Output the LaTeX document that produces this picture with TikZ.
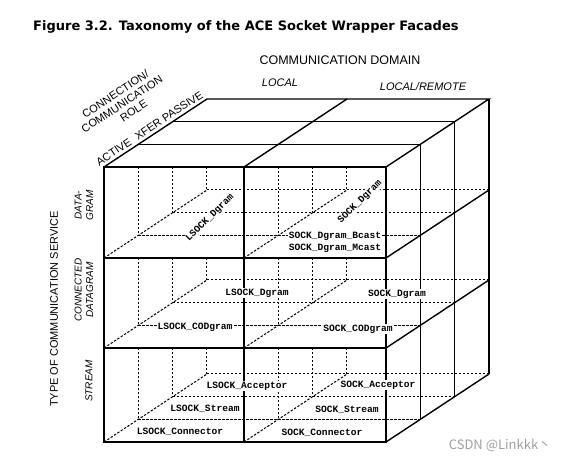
\documentclass[tikz,border=0pt]{standalone}
\usepackage{fontspec}
\setmainfont{Liberation Sans}
\newfontfamily\codefont{Liberation Mono}
\newfontfamily\titlefont{DejaVu Sans}
\newfontfamily\cjk{Noto Sans CJK SC}
\usetikzlibrary{calc}

\begin{document}
\begin{tikzpicture}[
  x=1pt, y=-1pt,
  edge/.style={line width=1.4pt, line join=miter},
  hidden/.style={line width=1pt, dash pattern=on 2.4pt off 1.6pt},
  cls/.style={font=\codefont\bfseries\fontsize{9.6}{10}\selectfont,
              fill=white, inner sep=1pt},
  axislabel/.style={font=\fontsize{11}{13}\selectfont, inner sep=1pt},
  domaintag/.style={font=\itshape\fontsize{11}{13}\selectfont, inner sep=1pt},
  servicetag/.style={rotate=90, align=center, inner sep=1pt,
                     font=\itshape\fontsize{10}{11.5}\selectfont},
]
\useasboundingbox (0,0) rectangle (569,462);

%% ---------- title ----------
\node[font=\titlefont\bfseries\fontsize{13}{15}\selectfont, anchor=west, inner sep=0pt]
  (title) at (33,27) {Figure 3.2. Taxonomy of the ACE Socket Wrapper Facades};

%% ---------- hidden edges of the three depth slabs ----------
\foreach \yt/\yb in {167/258, 258/348, 348/442}{
  \foreach \xl in {104, 244}{
    \draw[hidden] (\xl,\yb) -- ++(103,-68);
    \foreach \k in {1,2,3}
      \draw[hidden] ({\xl+34.33*\k},\yt) -- ({\xl+34.33*\k},{\yb-22.67*\k});
  }
  \foreach \k in {1,2,3}
    \draw[hidden] ({104+34.33*\k},{\yb-22.67*\k}) -- ++(282,0);
}

%% ---------- front face ----------
\draw[edge] (104,167) rectangle (386,442);
\draw[edge] (244,167) -- (244,442);
\draw[edge] (104,258) -- (386,258) (104,348) -- (386,348);

%% ---------- top face ----------
\draw[edge] (104,167) -- (207,99) -- (489,99) -- (386,167);
\draw[edge] (244,167) -- (347,99);
\foreach \k in {1,2}
  \draw[edge] ({104+34.33*\k},{167-22.67*\k}) -- ++(282,0);

%% ---------- right face ----------
\foreach \k in {1,2,3}
  \draw[edge] ({386+34.33*\k},{167-22.67*\k}) -- ++(0,275);
\foreach \y in {258,348,442}
  \draw[edge] (386,\y) -- ++(103,-68);

%% ---------- axis labels ----------
\node[axislabel, font=\fontsize{12.5}{14}\selectfont] (domain) at (340,60) {COMMUNICATION DOMAIN};
\node[domaintag] (local) at (280,83) {LOCAL};
\node[domaintag] (remote) at (423,87) {LOCAL/REMOTE};

\node[axislabel, rotate=33.4, align=center, font=\fontsize{11}{12}\selectfont]
  (role) at (122,104) {CONNECTION/\\COMMUNICATION\\\hspace*{12pt}ROLE};
\path (104,167) -- (138.33,144.33) node[axislabel, pos=0.4, above=2pt, sloped] (active) {ACTIVE};
\path (138.33,144.33) -- (172.67,121.67) node[axislabel, pos=0.4, above=2pt, sloped] (xfer) {XFER};
\path (172.67,121.67) -- (207,99) node[axislabel, pos=0.4, above=2pt, sloped] (passive) {PASSIVE};

\node[axislabel, rotate=90] (service) at (54,309) {TYPE OF COMMUNICATION SERVICE};
\node[servicetag] (dgram) at (84,205) {DATA-\\GRAM};
\node[servicetag] (codgram) at (84,290) {CONNECTED\\DATAGRAM};
\node[servicetag] (stream) at (89,381) {STREAM};

%% ---------- wrapper facade classes ----------
%% datagram row
\node[cls, rotate=45] (ldgram) at (210,218) {LSOCK\_Dgram};
\node[cls, rotate=45] (dgramr) at (360,202) {SOCK\_Dgram};
\node[cls] (bcast) at (335,236) {SOCK\_Dgram\_Bcast};
\node[cls] (mcast) at (335,248) {SOCK\_Dgram\_Mcast};
%% connected datagram row
\node[cls] (ldgramc) at (257,293) {LSOCK\_Dgram};
\node[cls] (lcodgram) at (195,327) {LSOCK\_CODgram};
\node[cls] (dgramc) at (397,294) {SOCK\_Dgram};
\node[cls] (codgram) at (358,329) {SOCK\_CODgram};
%% stream row
\node[cls] (lacc) at (247,386) {LSOCK\_Acceptor};
\node[cls] (lstream) at (205,409) {LSOCK\_Stream};
\node[cls] (lconn) at (180,432) {LSOCK\_Connector};
\node[cls] (acc) at (378,385) {SOCK\_Acceptor};
\node[cls] (sstream) at (347,410) {SOCK\_Stream};
\node[cls] (conn) at (322,433) {SOCK\_Connector};

%% watermark
\node[font=\cjk\fontsize{13}{14}\selectfont, text=gray!75] (mark) at (500,445) {CSDN @Linkkk丶};

\end{tikzpicture}
\end{document}
